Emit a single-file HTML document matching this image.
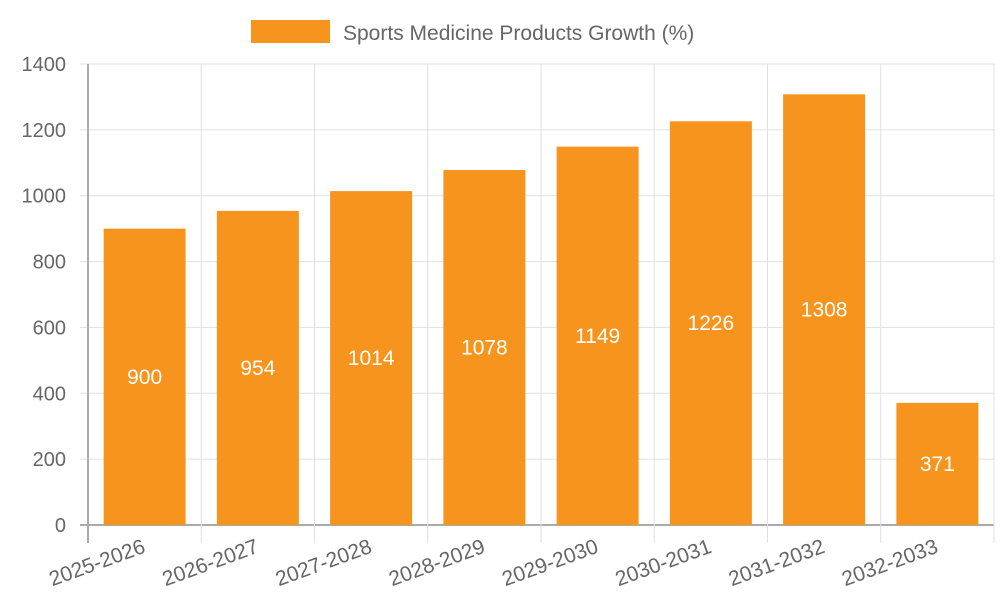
<!DOCTYPE html>
<html><head><meta charset="utf-8"><style>
body{margin:0;background:#fff}
svg{display:block;font-family:"Liberation Sans",sans-serif}
</style></head><body>
<svg id="chart" width="1000" height="600">
<rect x="251" y="20" width="79" height="23" fill="#f7941e"/>
<text x="343" y="40" font-size="21" fill="#666">Sports Medicine Products Growth (%)</text>
<g id="grid"></g><g id="bars"></g><g id="labels"></g>
</svg>
<script>
const categories=["2025-2026","2026-2027","2027-2028","2028-2029","2029-2030","2030-2031","2031-2032","2032-2033"];
const values=[900,954,1014,1078,1149,1226,1308,371];
const yTicks=[0,200,400,600,800,1000,1200,1400];
const NS="http://www.w3.org/2000/svg";
const x0=88,x1=994,yBase=525,yTop=64,yMax=1400;
const bw=(x1-x0)/categories.length;
const y=v=>yBase-(v/yMax)*(yBase-yTop);
function mk(tag,attrs,parent,txt){const e=document.createElementNS(NS,tag);for(const k in attrs)e.setAttribute(k,attrs[k]);if(txt!==undefined)e.textContent=txt;parent.appendChild(e);return e;}
const grid=document.getElementById('grid'),bars=document.getElementById('bars'),labels=document.getElementById('labels');
yTicks.forEach(t=>{
  const l=mk('line',{x1:80,x2:x1,y1:y(t),y2:y(t),stroke:t===0?'#aaa':'#e0e0e0','stroke-width':t===0?2:1},grid);
  
  
  const tx=mk('text',{x:66,y:y(t)+7,'text-anchor':'end','font-size':20,fill:'#666'},labels,t);
  
  
});
for(let i=0;i<=categories.length;i++){
  const gx=x0+i*bw;
  const l=mk('line',{x1:gx,x2:gx,y1:yTop,y2:yBase+18,stroke:i===0?'#aaa':'#e0e0e0','stroke-width':i===0?2:1},grid);
  
  
}
categories.forEach((c,i)=>{
  const cx=x0+(i+0.5)*bw,w=82;
  const r=mk('rect',{x:cx-w/2,y:y(values[i]),width:w,height:yBase-y(values[i]),fill:'#f7941e'},bars);
  
  
  const v=mk('text',{x:cx,y:(y(values[i])+yBase)/2+7,'text-anchor':'middle','font-size':21,fill:'#fff'},labels,values[i]);
  
  
  const t=mk('text',{x:cx+2,y:552,'text-anchor':'end','font-size':21,fill:'#666',transform:`rotate(-20 ${cx+2} 552)`},labels,c);
  
  
});
</script>
</body></html>
